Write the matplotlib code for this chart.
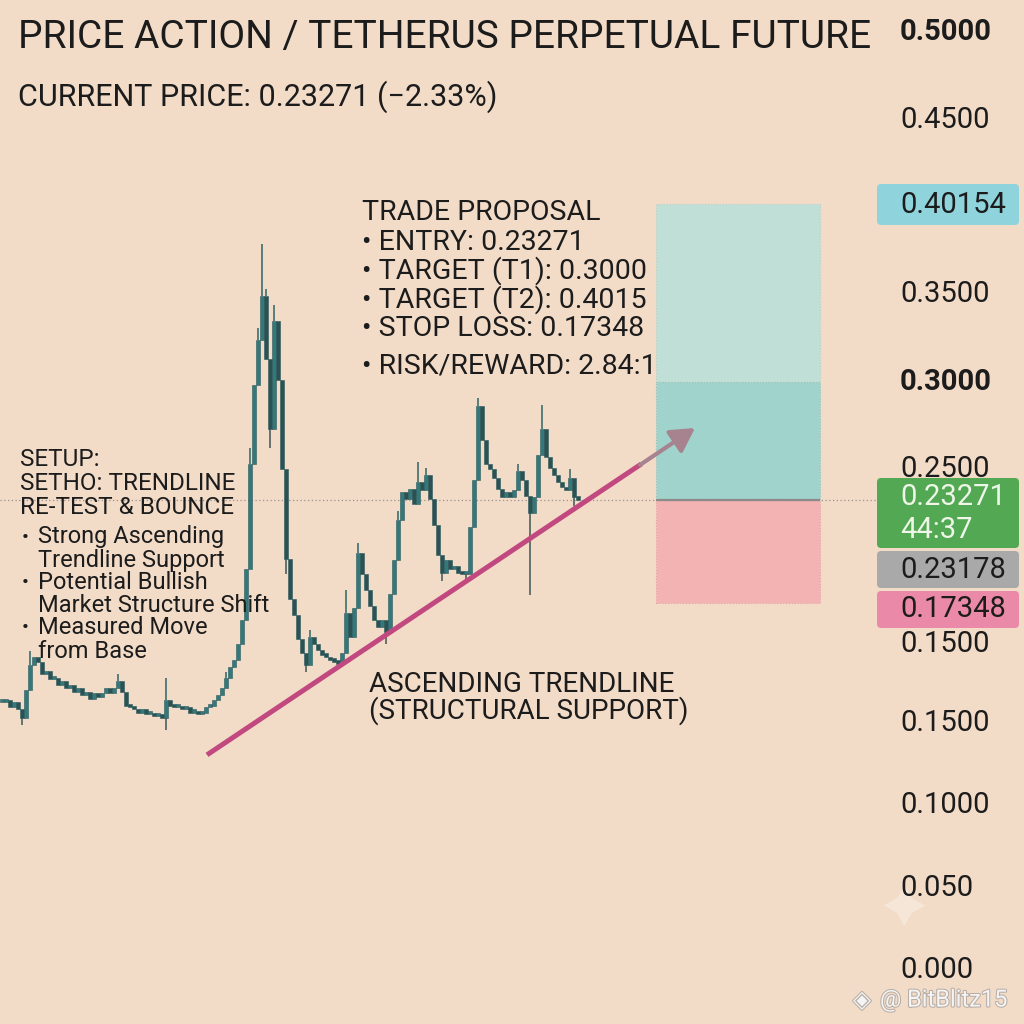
import numpy as np
import matplotlib.pyplot as plt
import matplotlib.transforms as mtransforms
import matplotlib.patheffects as pe
from matplotlib.patches import Rectangle, FancyBboxPatch

# price data (one candle close per bar)
closes = [
    0.117, 0.118, 0.114, 0.117, 0.113, 0.108, 0.124, 0.138, 0.143, 0.140,
    0.133, 0.135, 0.130, 0.131, 0.127, 0.129, 0.125, 0.127, 0.123, 0.125,
    0.121, 0.123, 0.119, 0.122, 0.120, 0.122, 0.125, 0.122, 0.125, 0.129,
    0.123, 0.115, 0.114, 0.113, 0.111, 0.113, 0.110, 0.111, 0.109, 0.110,
    0.108, 0.118, 0.115, 0.114, 0.115, 0.113, 0.114, 0.111, 0.111, 0.110,
    0.111, 0.114, 0.115, 0.118, 0.121, 0.125, 0.131, 0.137, 0.141, 0.150,
    0.164, 0.193, 0.253, 0.298, 0.324, 0.349, 0.313, 0.273, 0.335, 0.301,
    0.250, 0.199, 0.176, 0.167, 0.153, 0.145, 0.138, 0.154, 0.150, 0.147,
    0.144, 0.143, 0.141, 0.140, 0.139, 0.145, 0.168, 0.154, 0.171, 0.202,
    0.190, 0.181, 0.172, 0.164, 0.160, 0.164, 0.157, 0.179, 0.198, 0.221,
    0.237, 0.233, 0.239, 0.230, 0.243, 0.238, 0.247, 0.233, 0.218, 0.201,
    0.191, 0.198, 0.193, 0.195, 0.191, 0.190, 0.190, 0.217, 0.244, 0.286,
    0.267, 0.253, 0.250, 0.245, 0.239, 0.234, 0.237, 0.234, 0.238, 0.249,
    0.244, 0.235, 0.225, 0.234, 0.258, 0.273, 0.257, 0.251, 0.247, 0.243,
    0.240, 0.238, 0.245, 0.234, 0.2327,
]
# long wicks: candle index -> extreme price
wick_highs = {7: 0.146, 29: 0.133, 41: 0.131, 56: 0.134, 62: 0.262, 64: 0.331,
              65: 0.379, 66: 0.353, 68: 0.344, 77: 0.158, 86: 0.181, 89: 0.208,
              99: 0.226, 104: 0.254, 106: 0.251, 119: 0.291, 129: 0.253,
              135: 0.287, 142: 0.250}
wick_lows = {5: 0.104, 41: 0.101, 67: 0.262, 71: 0.190, 76: 0.134, 96: 0.150,
             110: 0.186, 116: 0.186, 132: 0.178, 143: 0.229}

entry = 0.23271
target1 = 0.3000
target2 = 0.40154
stop = 0.17348

trend_x = [51.75, 173.75]
trend_y = [0.0869, 0.2737]

scale_pos = [0.5, 0.45, 0.35, 0.30, 0.25, 0.15, 0.105, 0.058, 0.011, -0.036]
scale_labels = ["0.5000", "0.4500", "0.3500", "0.3000", "0.2500",
                "0.1500", "0.1500", "0.1000", "0.050", "0.000"]
scale_bold = ["0.5000", "0.3000"]

title = "PRICE ACTION / TETHERUS PERPETUAL FUTURE"
subtitle = "CURRENT PRICE: 0.23271 (\u22122.33%)"
proposal = ["TRADE PROPOSAL", "\u2022 ENTRY: 0.23271", "\u2022 TARGET (T1): 0.3000",
            "\u2022 TARGET (T2): 0.4015", "\u2022 STOP LOSS: 0.17348",
            "\u2022 RISK/REWARD: 2.84:1"]
setup_head = ["SETUP:", "SETHO: TRENDLINE", "RE-TEST & BOUNCE"]
setup_bullets = [["Strong Ascending", "Trendline Support"],
                 ["Potential Bullish", "Market Structure Shift"],
                 ["Measured Move", "from Base"]]
trend_label = ["ASCENDING TRENDLINE", "(STRUCTURAL SUPPORT)"]

BG = '#f2dcc8'
INK = '#1c1c1c'
FONT = 'Roboto'

fig = plt.figure(figsize=(10.24, 10.24), dpi=100, facecolor=BG)
ax = fig.add_axes([0, 0, 1, 1])
ax.set_facecolor(BG)
ax.axis('off')
ax.set_xlim(0, 256)
ax.set_ylim(-0.0669, 0.5183)


def fx(px):
    return px / 1024


def fy(py):
    return 1 - py / 1024


# candles
closes = np.array(closes)
opens = np.concatenate([[closes[0]], closes[:-1]])
xs = np.arange(len(closes)) + 0.5
lo = np.minimum(opens, closes)
hi = np.maximum(opens, closes)
colors = ['#33787a' if c >= o else '#2c5153' for o, c in zip(opens, closes)]
ax.bar(xs, np.maximum(hi - lo, 0.002), bottom=lo, width=0.85, color=colors,
       edgecolor='#2a5a5c', linewidth=0.4, zorder=3)
for i, h in wick_highs.items():
    ax.vlines(xs[i], hi[i], h, color='#2f6466', lw=1.1, zorder=3)
for i, l in wick_lows.items():
    ax.vlines(xs[i], l, lo[i], color='#3d5556', lw=1.1, zorder=3)

# trade boxes
bx0, bx1 = 164, 205
ax.add_patch(Rectangle((bx0, target1), bx1 - bx0, target2 - target1,
                       fc='#c0dfd6', ec='#b2d2c9', ls=':', lw=0.8, zorder=1))
ax.add_patch(Rectangle((bx0, entry), bx1 - bx0, target1 - entry,
                       fc='#9fd3cb', ec='#93c4bd', ls=':', lw=0.8, zorder=1))
ax.add_patch(Rectangle((bx0, stop), bx1 - bx0, entry - stop,
                       fc='#f2b3b2', ec='#e6a5a5', ls=':', lw=0.8, zorder=1))
ax.hlines(entry, 0, 219, colors='#9a9090', linestyles=(0, (1, 2)), lw=0.9, zorder=2)
ax.hlines(entry, bx0, bx1, colors='#8f8a8a', lw=1.6, zorder=2)

# trendline + arrow
split = 0.89
sx = trend_x[0] + split * (trend_x[1] - trend_x[0])
sy = trend_y[0] + split * (trend_y[1] - trend_y[0])
ax.plot([trend_x[0], sx], [trend_y[0], sy], color='#c2497f', lw=3.6,
        solid_capstyle='butt', zorder=4)
ax.annotate('', xy=(trend_x[1], trend_y[1]), xytext=(sx - 0.3, sy - 0.0005),
            arrowprops=dict(arrowstyle='-|>,head_length=0.8,head_width=0.45',
                            color='#a6838f', lw=3.0, mutation_scale=18,
                            shrinkA=0, shrinkB=0), zorder=4)

# price scale
scale_tr = mtransforms.blended_transform_factory(fig.transFigure, ax.transData)
for v, lab in zip(scale_pos, scale_labels):
    ax.text(fx(900), v, lab, transform=scale_tr, va='center', ha='left',
            fontsize=21, family=FONT, color=INK,
            fontweight='bold' if lab in scale_bold else 'normal', zorder=2)


def tag(top, bottom, color):
    ax.add_patch(FancyBboxPatch((fx(877), fy(bottom)), fx(1019) - fx(877),
                                fy(top) - fy(bottom),
                                boxstyle='round,pad=0,rounding_size=0.004',
                                transform=fig.transFigure, fc=color, ec='none',
                                clip_on=False, zorder=5))


tag(184, 225, '#8fd3dd')
ax.text(fx(900), fy(205), "0.40154", transform=fig.transFigure, va='center',
        fontsize=21, family=FONT, color=INK, zorder=6)
tag(478, 548, '#53a953')
ax.text(fx(900), fy(497), "0.23271", transform=fig.transFigure, va='center',
        fontsize=21, family=FONT, color='#eef6e8', zorder=6)
ax.text(fx(900), fy(530), "44:37", transform=fig.transFigure, va='center',
        fontsize=21, family=FONT, color='#eef6e8', zorder=6)
tag(551, 588, '#a9a9aa')
ax.text(fx(900), fy(570), "0.23178", transform=fig.transFigure, va='center',
        fontsize=21, family=FONT, color=INK, zorder=6)
tag(591, 628, '#ea89a8')
ax.text(fx(900), fy(609), "0.17348", transform=fig.transFigure, va='center',
        fontsize=21, family=FONT, color=INK, zorder=6)

# headline texts
fig.text(fx(18), fy(37), title, va='center', fontsize=28, family=FONT, color=INK)
fig.text(fx(18), fy(97), subtitle, va='center', fontsize=22, family=FONT, color=INK)

for k, line in enumerate(proposal):
    yy = [213, 242, 271, 300, 329, 366][k]
    fig.text(fx(362), fy(yy), line, va='center', fontsize=20.5, family=FONT, color=INK)

for k, line in enumerate(setup_head):
    fig.text(fx(20), fy(460 + 24 * k), line, va='center', fontsize=17.5,
             family=FONT, color=INK)
for k, (l1, l2) in enumerate(setup_bullets):
    y1 = 537 + 45.5 * k
    fig.text(fx(22), fy(y1), "\u2022", va='center', fontsize=15, family=FONT, color=INK)
    fig.text(fx(38), fy(y1), l1, va='center', fontsize=17, family=FONT, color=INK)
    fig.text(fx(38), fy(y1 + 23), l2, va='center', fontsize=17, family=FONT, color=INK)

for k, line in enumerate(trend_label):
    fig.text(fx(369), fy(684 + 27 * k), line, va='center', fontsize=20,
             family=FONT, color=INK)

# watermarks
ax.scatter([fx(904)], [fy(905)], s=900, marker=(4, 1, 0), color='white',
           alpha=0.3, linewidths=0, transform=fig.transFigure, clip_on=False, zorder=1)
halo = [pe.withStroke(linewidth=1.5, foreground='#b8aea6')]
fig.text(fx(862), fy(1000), "\u25c8", ha='center', va='center', fontsize=17,
         family='DejaVu Sans', color='#f4f4f4', path_effects=halo)
fig.text(fx(880), fy(1000), "@ BitBlitz15", va='center', fontsize=17,
         family=FONT, color='#f4f4f4', path_effects=halo)

fig.savefig('out.png', dpi=100, facecolor=BG)
